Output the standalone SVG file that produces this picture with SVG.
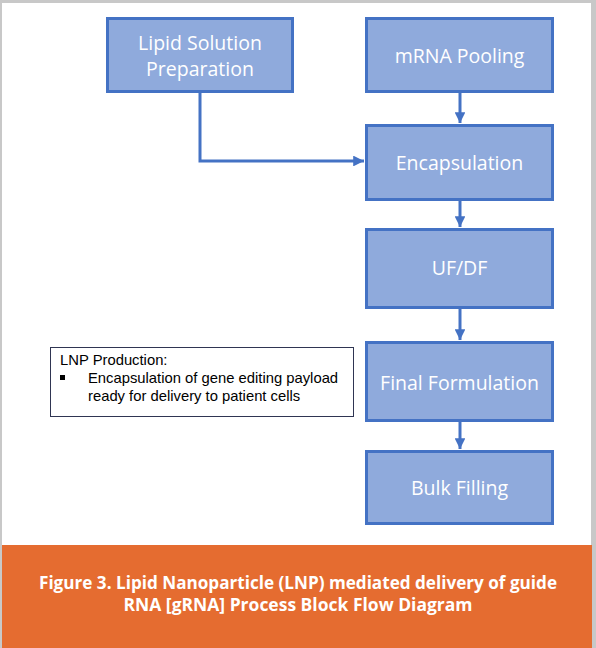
<svg xmlns="http://www.w3.org/2000/svg" width="596" height="648" viewBox="0 0 596 648">
<style>
.node{fill:#8FAADC;stroke:#4472C4;stroke-width:3}
.lbl{font-family:"Open Sans","Noto Sans",sans-serif;font-size:19.5px;fill:#ffffff;text-anchor:middle}
.conn{fill:none;stroke:#4472C4;stroke-width:3}
.note{font-family:"Liberation Sans",Arial,sans-serif;font-size:14.8px;fill:#000000}
.cap{font-family:"Open Sans","Noto Sans",sans-serif;font-weight:bold;font-size:17px;fill:#ffffff;text-anchor:middle}
</style>
<defs>
<marker id="ah" viewBox="0 0 10 10" refX="10" refY="5" markerWidth="3.6" markerHeight="3.6" orient="auto" markerUnits="strokeWidth">
<path d="M0,0 L10,5 L0,10 z" fill="#4472C4"/>
</marker>
</defs>
<rect x="0" y="0" width="596" height="648" fill="#c8c8c8"/>
<rect x="2" y="3" width="589" height="645" fill="#ffffff"/>
<rect x="2" y="545" width="590" height="103" fill="#E56C30"/>

<g id="connectors">
<path class="conn" d="M200,93 V161 H364" marker-end="url(#ah)"/>
<path class="conn" d="M460,93 V123" marker-end="url(#ah)"/>
<path class="conn" d="M460,201 V227" marker-end="url(#ah)"/>
<path class="conn" d="M460,309 V340" marker-end="url(#ah)"/>
<path class="conn" d="M460,422 V449" marker-end="url(#ah)"/>
</g>

<g id="lipid">
<rect class="node" x="107.5" y="18.5" width="185" height="73"/>
<text class="lbl" x="200" y="50">Lipid Solution</text>
<text class="lbl" x="200" y="76">Preparation</text>
</g>
<g id="mrna">
<rect class="node" x="366.5" y="18.5" width="186" height="73"/>
<text class="lbl" x="459.5" y="63">mRNA Pooling</text>
</g>
<g id="encapsulation">
<rect class="node" x="366.5" y="125.5" width="186" height="74"/>
<text class="lbl" x="459.5" y="170">Encapsulation</text>
</g>
<g id="ufdf">
<rect class="node" x="366.5" y="229.5" width="186" height="78"/>
<text class="lbl" x="459.5" y="275">UF/DF</text>
</g>
<g id="final">
<rect class="node" x="366.5" y="342.5" width="186" height="78"/>
<text class="lbl" x="459.5" y="390">Final Formulation</text>
</g>
<g id="bulk">
<rect class="node" x="366.5" y="451.5" width="186" height="72"/>
<text class="lbl" x="459.5" y="495">Bulk Filling</text>
</g>

<g id="note">
<rect x="50.5" y="347.5" width="303" height="69" fill="#ffffff" stroke="#2F3552" stroke-width="1"/>
<text class="note" x="60" y="365">LNP Production:</text>
<rect x="60" y="375" width="5" height="5" fill="#000000"/>
<text class="note" x="88" y="383">Encapsulation of gene editing payload</text>
<text class="note" x="88" y="401">ready for delivery to patient cells</text>
</g>

<g id="caption">
<text class="cap" x="298" y="589" textLength="518" lengthAdjust="spacingAndGlyphs">Figure 3. Lipid Nanoparticle (LNP) mediated delivery of guide</text>
<text class="cap" x="298" y="611" textLength="349" lengthAdjust="spacingAndGlyphs">RNA [gRNA] Process Block Flow Diagram</text>
</g>
</svg>
